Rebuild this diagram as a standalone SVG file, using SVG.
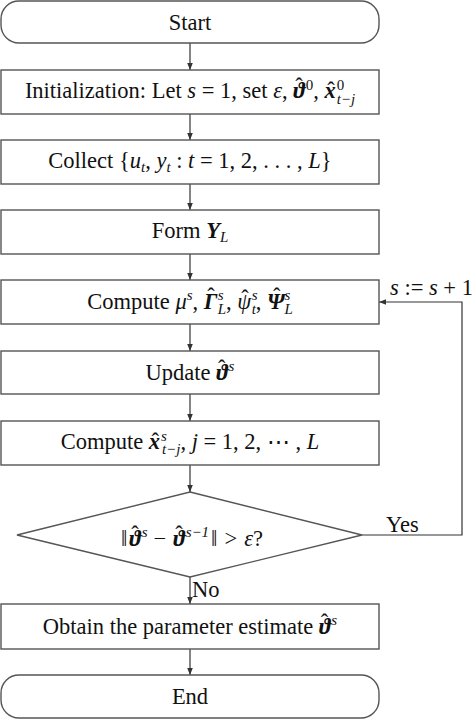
<svg xmlns="http://www.w3.org/2000/svg" width="474" height="719" viewBox="0 0 474 719">
<defs>
<marker id="ah" viewBox="0 0 10 10" refX="10" refY="5" markerWidth="7" markerHeight="7" markerUnits="userSpaceOnUse" orient="auto"><path d="M0,1 L10,5 L0,9 Z" fill="#333"/></marker>
<style>
.box{fill:#fff;stroke:#555;stroke-width:1.4}
.ln{fill:none;stroke:#333;stroke-width:1.2}
text{font-family:"Liberation Serif","Times New Roman",serif;font-size:22.5px;fill:#111}
.c{text-anchor:middle}
.i{font-style:italic}
.bi{font-style:italic;font-weight:bold}
.sc{font-size:15px}
</style>
</defs>
<rect width="474" height="719" fill="#fff"/>
<g id="connectors">
<line class="ln" x1="190" y1="43" x2="190" y2="70" marker-end="url(#ah)"/>
<line class="ln" x1="190" y1="114" x2="190" y2="140" marker-end="url(#ah)"/>
<line class="ln" x1="190" y1="184" x2="190" y2="210" marker-end="url(#ah)"/>
<line class="ln" x1="190" y1="254" x2="190" y2="280" marker-end="url(#ah)"/>
<line class="ln" x1="190" y1="324" x2="190" y2="351" marker-end="url(#ah)"/>
<line class="ln" x1="190" y1="394" x2="190" y2="421" marker-end="url(#ah)"/>
<line class="ln" x1="190" y1="465" x2="190" y2="492" marker-end="url(#ah)"/>
<line class="ln" x1="190" y1="577" x2="190" y2="604" marker-end="url(#ah)"/>
<line class="ln" x1="190" y1="649" x2="190" y2="675" marker-end="url(#ah)"/>
<polyline class="ln" points="362,535 462,535 462,302 379,302" marker-end="url(#ah)"/>
<text x="386" y="532">Yes</text>
<text x="192" y="597">No</text>
<text x="390" y="295"><tspan class="i">s</tspan> := <tspan class="i">s</tspan> + 1</text>
</g>
<g id="start">
<rect class="box" x="1" y="1" width="378" height="42" rx="18"/>
<text class="c" x="190" y="30">Start</text>
</g>
<g id="init">
<rect class="box" x="1" y="70" width="378" height="44"/>
<text class="c" x="190" y="98">Initialization: Let <tspan class="i">s</tspan> = 1, set <tspan class="i">ε</tspan>, <tspan class="bi">ϑ</tspan><tspan dx="-10" dy="-4">ˆ</tspan><tspan class="sc" dx="3" dy="-4">0</tspan><tspan dy="8">, </tspan><tspan class="bi">x</tspan><tspan dx="-8.5">ˆ</tspan><tspan class="sc" dx="2" dy="-8">0</tspan><tspan class="sc i" dx="-7.5" dy="14">t−j</tspan></text>
</g>
<g id="collect">
<rect class="box" x="1" y="140" width="378" height="44"/>
<text class="c" x="190" y="168">Collect {<tspan class="i">u</tspan><tspan class="sc i" dy="4">t</tspan><tspan dy="-4">, </tspan><tspan class="i">y</tspan><tspan class="sc i" dy="4">t</tspan><tspan dy="-4"> : </tspan><tspan class="i">t</tspan> = 1, 2, . . . , <tspan class="i">L</tspan>}</text>
</g>
<g id="form">
<rect class="box" x="1" y="210" width="378" height="44"/>
<text class="c" x="190" y="238">Form <tspan class="bi">Y</tspan><tspan class="sc i" dy="4">L</tspan></text>
</g>
<g id="compute">
<rect class="box" x="1" y="280" width="378" height="44"/>
<text class="c" x="190" y="309">Compute <tspan class="i">μ</tspan><tspan class="sc i" dy="-9">s</tspan><tspan dy="9">, </tspan><tspan class="bi">Γ</tspan><tspan dx="-10" dy="-5">ˆ</tspan><tspan class="sc i" dx="3" dy="-4">s</tspan><tspan class="sc i" dx="-6" dy="14">L</tspan><tspan dy="-5">, </tspan><tspan class="i">ψ</tspan><tspan dx="-10" dy="-3">ˆ</tspan><tspan class="sc i" dx="3" dy="-6">s</tspan><tspan class="sc i" dx="-6" dy="14">t</tspan><tspan dy="-5">, </tspan><tspan class="bi">Ψ</tspan><tspan dx="-12" dy="-5">ˆ</tspan><tspan class="sc i" dx="4" dy="-4">s</tspan><tspan class="sc i" dx="-6" dy="14">L</tspan></text>
</g>
<g id="update">
<rect class="box" x="1" y="351" width="378" height="43"/>
<text class="c" x="190" y="380">Update <tspan class="bi">ϑ</tspan><tspan dx="-10" dy="-4">ˆ</tspan><tspan class="sc i" dx="3" dy="-5">s</tspan></text>
</g>
<g id="computex">
<rect class="box" x="1" y="421" width="378" height="44"/>
<text class="c" x="190" y="449">Compute <tspan class="bi">x</tspan><tspan dx="-8.5">ˆ</tspan><tspan class="sc i" dx="2" dy="-8">s</tspan><tspan class="sc i" dx="-5" dy="13">t−j</tspan><tspan dy="-5">, </tspan><tspan class="i">j</tspan> = 1, 2, ⋯ , <tspan class="i">L</tspan></text>
</g>
<g id="decision">
<polygon class="box" points="190,492 362,535 190,577 17,535"/>
<text class="c" x="192" y="546">‖<tspan class="bi" dx="2">ϑ</tspan><tspan dx="-10" dy="-4">ˆ</tspan><tspan class="sc i" dx="3" dy="-5">s</tspan><tspan dx="6" dy="9">−</tspan><tspan class="bi" dx="7">ϑ</tspan><tspan dx="-10" dy="-4">ˆ</tspan><tspan class="sc i" dx="3" dy="-5">s−1</tspan><tspan dx="2" dy="9">‖</tspan><tspan dx="7">&gt;</tspan><tspan class="i" dx="7">ε</tspan>?</text>
</g>
<g id="obtain">
<rect class="box" x="1" y="604" width="378" height="45"/>
<text class="c" x="190" y="634">Obtain the parameter estimate <tspan class="bi">ϑ</tspan><tspan dx="-10" dy="-4">ˆ</tspan><tspan class="sc i" dx="3" dy="-5">s</tspan></text>
</g>
<g id="end">
<rect class="box" x="1" y="675" width="378" height="43" rx="18"/>
<text class="c" x="190" y="704">End</text>
</g>
</svg>
